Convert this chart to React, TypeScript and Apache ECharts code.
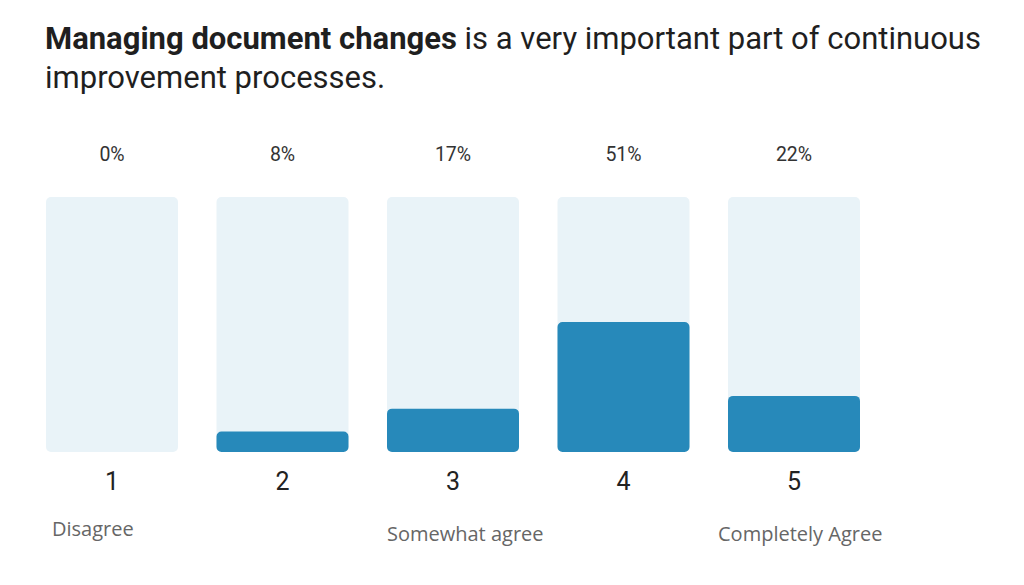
import React, { useEffect, useRef } from "react";
import * as echarts from "echarts";

const categories = ["1", "2", "3", "4", "5"];
const values = [0, 8, 17, 51, 22];
const percentLabels = values.map((v) => `${v}%`);
const scaleNotes = [
  { text: "Disagree", x: 52, y: 530 },
  { text: "Somewhat agree", x: 387, y: 535 },
  { text: "Completely Agree", x: 718, y: 535 },
];
const titleBold = "Managing document changes";
const titleRest1 = "is a very important part of continuous";
const titleRest2 = "improvement processes.";

export default function App() {
  const ref = useRef<HTMLDivElement>(null);
  useEffect(() => {
    if (!ref.current) return;
    const chart = echarts.init(ref.current, null, { renderer: "svg" });
    chart.setOption({
      animation: false,
      backgroundColor: "#ffffff",
      title: {
        left: 40,
        top: 14,
        text: `{b|${titleBold}}{r| ${titleRest1}}\n{r|${titleRest2}}`,
        textStyle: {
          rich: {
            b: { fontFamily: "Roboto", fontWeight: "bold", fontSize: 31, color: "#1f1f1f", lineHeight: 39 },
            r: { fontFamily: "Roboto", fontWeight: "normal", fontSize: 31, color: "#1f1f1f", lineHeight: 39 },
          },
        },
      },
      grid: { left: 26.75, right: 144.75, top: 197, bottom: 133 },
      xAxis: [
        {
          type: "category",
          data: categories,
          position: "bottom",
          axisLine: { show: false },
          axisTick: { show: false },
          axisLabel: { margin: 17, fontFamily: "Roboto", fontSize: 25, color: "#222" },
        },
        {
          type: "category",
          data: percentLabels,
          position: "top",
          axisLine: { show: false },
          axisTick: { show: false },
          axisLabel: { margin: 33, fontFamily: "Roboto", fontSize: 19.5, color: "#333" },
        },
      ],
      yAxis: { type: "value", min: 0, max: 100, show: false },
      series: [
        {
          type: "bar",
          data: values,
          barWidth: 132,
          showBackground: true,
          backgroundStyle: { color: "#E9F3F8", borderRadius: 5 },
          itemStyle: { color: "#2789BA", borderRadius: 5 },
        },
      ],
      graphic: scaleNotes.map((n) => ({
        type: "text",
        left: n.x,
        top: n.y - 12,
        style: { text: n.text, fontFamily: "Open Sans", fontSize: 20, fill: "#666" },
      })),
    });
    return () => chart.dispose();
  }, []);
  return <div ref={ref} style={{ position: "fixed", left: 0, top: 0, width: 1024, height: 585 }} />;
}
